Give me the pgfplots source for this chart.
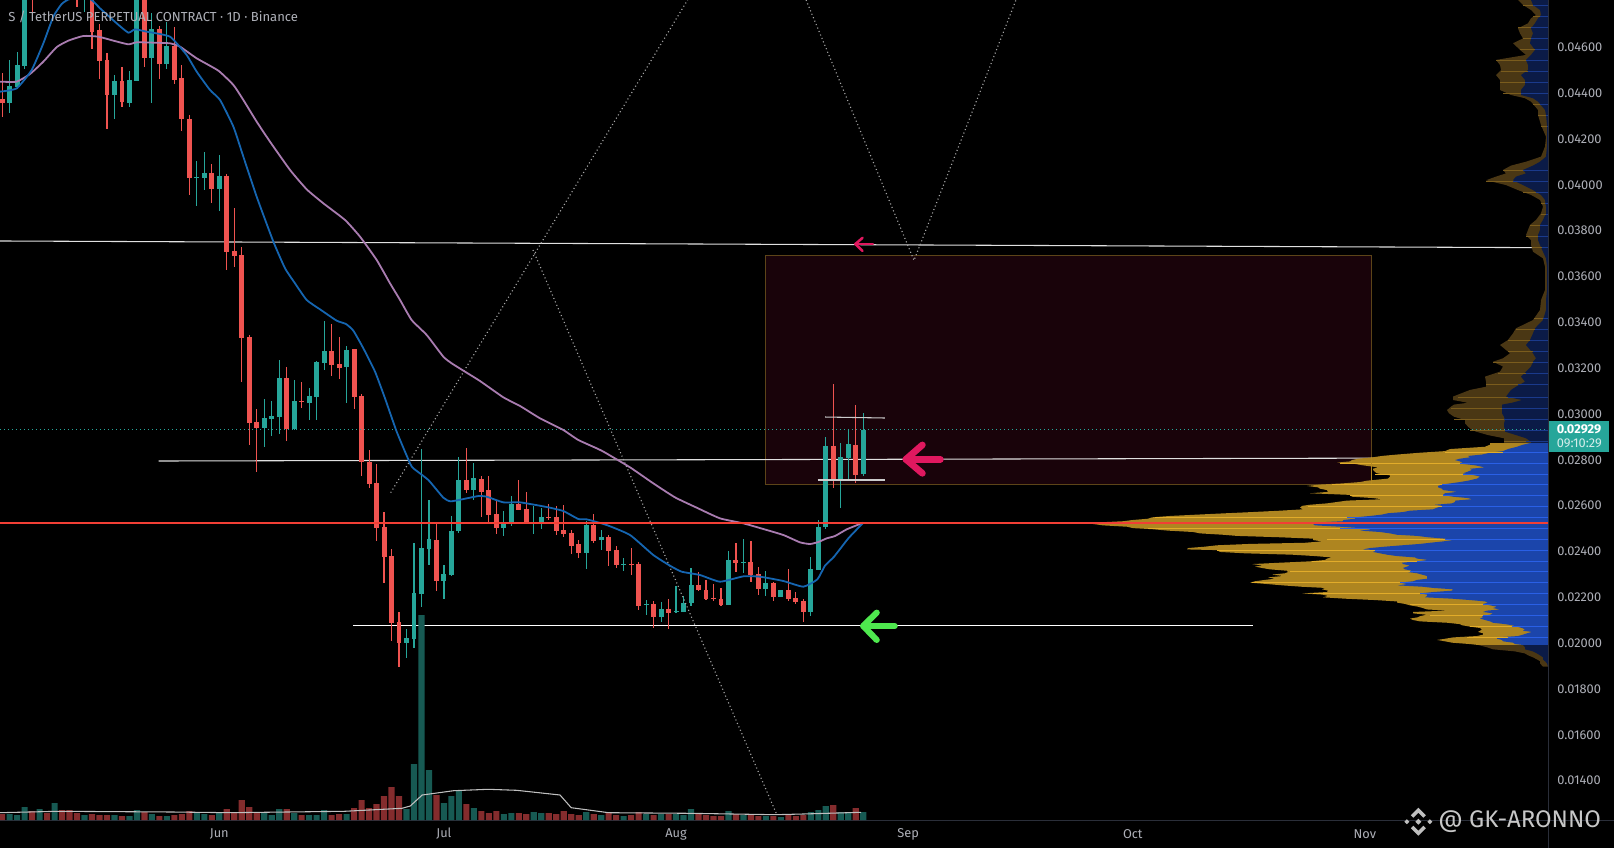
\documentclass[border=0pt]{standalone}
\usepackage{pgfplots}
\usepackage{pgfplotstable}
\usepackage{fontspec}
\setmainfont{Fira Sans}
\pgfplotsset{compat=1.18}
\definecolor{cG}{HTML}{26A69A}
\definecolor{cR}{HTML}{EF5350}
\definecolor{vG}{HTML}{175A53}
\definecolor{vR}{HTML}{842C2D}
\definecolor{maB}{HTML}{1565B0}
\definecolor{maP}{HTML}{A97CB0}
\definecolor{redL}{HTML}{F23F35}
\definecolor{boxF}{HTML}{19030A}
\definecolor{boxE}{HTML}{5C4418}
\definecolor{gold}{HTML}{AE8520}
\definecolor{goldD}{HTML}{4A3714}
\definecolor{goldS}{HTML}{E2AC2A}
\definecolor{goldDS}{HTML}{7A5C1D}
\definecolor{blu}{HTML}{1B45AB}
\definecolor{bluD}{HTML}{0B1B47}
\definecolor{bluS}{HTML}{2A60E6}
\definecolor{bluDS}{HTML}{1A3A8C}
\definecolor{pinkA}{HTML}{E0185F}
\definecolor{greenA}{HTML}{4EE84E}
\definecolor{axL}{HTML}{2A2E39}
\definecolor{txt}{HTML}{AEB0B8}

\pgfplotstableread{
d o h l c
-28 .043556 .045419 .043120 .044284
-27 .044226 .045782 .044138 .045200
-26 .045171 .049500 .045026 .049000
-18 .048500 .051000 .047528 .050000
-14 .043891 .044764 .042844 .044502
-12 .043557 .044938 .043382 .044546
-11 .044517 .049000 .044517 .048500
-9 .045506 .047455 .043557 .046771
-7 .045244 .047077 .045026 .046030
-3 .040280 .041011 .039047 .040300
-2 .040269 .041404 .039745 .040487
0 .039789 .041273 .038829 .040356
6 .029358 .030624 .028529 .029794
7 .029751 .030536 .029009 .029882
8 .029838 .032326 .029096 .031540
10 .029314 .031453 .029271 .030536
12 .030449 .031104 .029707 .030754
13 .030711 .032282 .029707 .032238
14 .032195 .034028 .031889 .032718
17 .032020 .032937 .030449 .032762
25 .019975 .020586 .019321 .020193
26 .020150 .024339 .019757 .022157
27 .022114 .028441 .021546 .024121
28 .024077 .026216 .023379 .024514
30 .022681 .023379 .021895 .022986
31 .022943 .025518 .022899 .024863
32 .024863 .028092 .024776 .027089
34 .026652 .027831 .026216 .027176
38 .024994 .025736 .024645 .025168
39 .025256 .026390 .025081 .026041
42 .025210 .025954 .024732 .025230
43 .025256 .025852 .024950 .025474
49 .023903 .025300 .023205 .025125
51 .024470 .024907 .024034 .024601
54 .023400 .023685 .023118 .023423
57 .021660 .021852 .021197 .021677
59 .021110 .021765 .020892 .021459
61 .021350 .022463 .021328 .021372
62 .021328 .022027 .021328 .021721
63 .021721 .023249 .021590 .022507
68 .021634 .023990 .021634 .023598
70 .023490 .024514 .023030 .023510
73 .022332 .023118 .022027 .022594
75 .021983 .022288 .021983 .022288
79 .021328 .023729 .021154 .023205
80 .023161 .025343 .023161 .025038
81 .025038 .028965 .024950 .028573
83 .027045 .028704 .025867 .028093
84 .028049 .029300 .027089 .028660
86 .027351 .030013 .027263 .029290
}\greenC
\pgfplotstableread{
d o h l c
-29 .043717 .044837 .042946 .043542
-25 .050000 .050500 .047530 .049000
-19 .052000 .053000 .047746 .050000
-17 .048500 .049000 .045884 .046640
-16 .046728 .046990 .044589 .045375
-15 .045419 .045709 .042407 .043891
-13 .044502 .045113 .043382 .043600
-10 .048500 .049000 .045128 .045506
-8 .046771 .046902 .044589 .045244
-6 .046030 .046859 .044371 .044546
-5 .044633 .045200 .042320 .042844
-4 .042844 .043018 .039527 .040269
-1 .040487 .040880 .039178 .039789
1 .040356 .040443 .036254 .037039
2 .037083 .038960 .036385 .036865
3 .036908 .037258 .031380 .033300
4 .033329 .033417 .028616 .029576
5 .029620 .030187 .027438 .029358
9 .031540 .032020 .028791 .029314
11 .030536 .031365 .030231 .030507
15 .032718 .033897 .031627 .032107
16 .032151 .033329 .031496 .031976
18 .032806 .032806 .030187 .030711
19 .030754 .030842 .027263 .027874
20 .027874 .028398 .026739 .026914
21 .026958 .027787 .024427 .024994
22 .025037 .025692 .022594 .023728
23 .023772 .024077 .020062 .020848
24 .020892 .021328 .018928 .019975
29 .024470 .025212 .022244 .022681
33 .027089 .028485 .026521 .026652
35 .027132 .027263 .025474 .026565
36 .026652 .027263 .025212 .025561
37 .025605 .026172 .024732 .024994
40 .026041 .027089 .025779 .025779
41 .025823 .026565 .025212 .025212
44 .025474 .026042 .025343 .025430
45 .025474 .025954 .024689 .024863
46 .024907 .025998 .024601 .024732
47 .024776 .024907 .023859 .024209
48 .024296 .024470 .023685 .023903
50 .025125 .025605 .024340 .024427
52 .024601 .024689 .023336 .023990
53 .024034 .024209 .023249 .023379
55 .023423 .024121 .022943 .023400
56 .023423 .023510 .021416 .021590
58 .021677 .021808 .020630 .021110
60 .021459 .021896 .020586 .021285
64 .022507 .023074 .022245 .022288
65 .022288 .022725 .021852 .021896
66 .021960 .022550 .021808 .021939
67 .021896 .022376 .021590 .021634
69 .023598 .024340 .023074 .023467
71 .023510 .024427 .022637 .022943
72 .022987 .023292 .022070 .022332
74 .022594 .022638 .021808 .021983
76 .022288 .023205 .021808 .021896
77 .021939 .022201 .021677 .021765
78 .021808 .021896 .020892 .021328
82 .028573 .031278 .026740 .027045
85 .028616 .030362 .026958 .027307
}\redC
\pgfplotstableread{
d v
-28 6
-27 5
-26 13
-24 11
-22 17
-18 5
-14 5
-12 4
-11 10
-9 6
-7 4
-3 7
-2 6
0 8
6 7
7 5
8 11
10 7
12 5
13 5
14 10
17 6
25 11
26 56
27 205
28 50
30 17
31 24
32 29
34 12
38 6
39 7
42 8
43 7
49 8
51 5
54 4
57 6
59 6
61 6
62 5
63 11
68 9
70 5
73 4
75 3
79 8
80 10
81 14
83 8
84 8
86 8
}\greenV
\pgfplotstableread{
d v
-29 6
-25 9
-23 7
-21 10
-20 10
-19 7
-17 6
-16 5
-15 5
-13 4
-10 8
-8 4
-6 5
-5 6
-4 9
-1 5
1 11
2 8
3 20
4 13
5 8
9 11
11 5
15 5
16 6
18 12
19 20
20 12
21 16
22 24
23 33
24 24
29 25
33 16
35 9
36 7
37 9
40 7
41 6
44 7
45 6
46 9
47 6
48 5
50 6
52 8
53 5
55 5
56 8
58 5
60 6
64 6
65 5
66 4
67 4
69 6
71 6
72 4
74 4
76 5
77 4
78 5
82 15
85 12
}\redV
% volume profile: price, total width, down-volume width
\pgfplotstableread{
p wg wb
.04804 0 0
.04804 30 17
.04782 25 15
.04760 17 8
.04738 12 7
.04724 17 10
.04702 20 13
.04680 30 17
.04658 28 15
.04636 25 17
.04615 35 18
.04586 28 13
.04564 22 17
.04542 52 22
.04520 48 20
.04498 47 20
.04476 52 27
.04455 48 23
.04433 48 23
.04411 48 27
.04389 37 27
.04375 23 15
.04360 17 10
.04324 10 3
.04302 10 2
.04258 7 1
.04207 2 1
.04164 3 1
.04120 7 2
.04098 22 8
.04081 37 15
.04062 45 25
.04047 42 22
.04033 52 32
.04017 62 35
.03996 42 25
.03974 30 15
.03953 17 7
.03931 8 3
.03902 5 2
.03873 7 2
.03844 12 5
.03822 18 8
.03800 20 8
.03778 22 10
.03756 17 10
.03735 17 8
.03705 15 5
.03676 5 2
.03640 3 1
.03596 3 1
.03538 3 1
.03494 7 2
.03451 8 2
.03407 15 5
.03371 32 13
.03349 35 15
.03320 40 18
.03298 48 22
.03262 38 15
.03240 45 12
.03225 55 15
.03204 45 17
.03182 48 22
.03160 63 27
.03138 62 23
.03116 62 32
.03102 78 37
.03073 95 42
.03058 95 26
.03046 80 36
.03038 94 46
.03029 97 46
.03014 101 46
.03000 99 46
.02985 94 44
.02971 83 43
.02956 83 44
.02942 80 44
.02930 77 43
.02920 72 43
.02905 60 32
.02891 44 22
.02876 44 17
.02870 44 17
.02870 0 0
}\vpTop
\pgfplotstableread{
p wg wb
.02870 0 0
.02870 58 18
.02863 58 25
.02854 63 31
.02844 98 40
.02835 103 45
.02828 128 58
.02820 151 66
.02814 166 80
.02808 175 78
.02802 190 88
.02796 196 93
.02790 198 88
.02785 211 86
.02779 193 85
.02773 185 73
.02764 170 63
.02758 175 78
.02753 175 76
.02744 173 81
.02738 171 85
.02729 158 73
.02724 158 68
.02715 160 71
.02706 181 80
.02700 188 88
.02694 206 98
.02689 228 106
.02683 241 110
.02677 230 110
.02671 228 106
.02665 221 105
.02657 220 91
.02651 238 103
.02644 198 105
.02636 196 95
.02630 175 80
.02625 166 76
.02619 201 93
.02613 211 93
.02607 221 96
.02601 238 113
.02596 246 106
.02588 248 111
.02581 245 115
.02575 268 138
.02569 296 145
.02564 321 160
.02558 350 166
.02552 378 178
.02546 396 193
.02540 400 193
.02534 416 205
.02529 425 205
.02523 454 235
.02517 455 235
.02511 445 233
.02505 421 208
.02499 415 188
.02494 395 176
.02488 380 188
.02482 355 168
.02476 348 158
.02470 325 151
.02465 311 131
.02459 268 120
.02453 235 103
.02447 235 95
.02441 226 105
.02435 243 118
.02430 298 128
.02424 331 146
.02418 343 163
.02412 360 178
.02406 361 185
.02403 331 171
.02395 328 175
.02389 303 168
.02383 256 161
.02377 233 151
.02371 216 133
.02366 221 131
.02360 223 120
.02354 238 131
.02348 268 146
.02342 296 145
.02336 285 138
.02331 293 141
.02325 286 145
.02319 278 143
.02313 261 136
.02307 260 140
.02302 263 131
.02296 276 126
.02290 265 121
.02284 280 121
.02278 273 121
.02273 283 131
.02267 293 135
.02261 298 148
.02255 281 141
.02249 265 150
.02243 246 125
.02238 223 115
.02232 226 95
.02226 220 96
.02220 221 115
.02214 246 128
.02209 226 121
.02203 220 121
.02197 225 123
.02191 203 96
.02185 173 78
.02179 151 63
.02174 151 60
.02168 143 65
.02162 138 58
.02156 130 51
.02150 125 55
.02144 121 48
.02139 100 61
.02133 135 65
.02127 135 55
.02121 121 58
.02115 128 66
.02110 130 65
.02104 138 68
.02098 135 63
.02092 128 58
.02086 101 55
.02080 88 43
.02075 86 36
.02069 78 31
.02063 68 26
.02057 66 23
.02051 68 25
.02046 70 16
.02040 65 21
.02034 65 25
.02028 71 30
.02022 95 51
.02016 103 51
.02011 111 46
.02005 103 45
.01999 96 35
.01993 78 33
.01989 70 25
.01989 0 0
}\vpMid
\pgfplotstableread{
p wg wb
.01989 0 0
.01989 70 25
.01979 61 23
.01970 55 23
.01961 33 15
.01952 23 11
.01944 20 8
.01935 15 5
.01926 11 5
.01918 8 3
.01909 8 1
.01894 5 0
.01894 0 0
}\vpBot
\pgfplotstableread{
p wg wb
.02830 103 45
.02782 208 88
.02734 173 85
.02690 216 106
.02642 198 105
.02594 240 106
.02546 393 201
.02498 400 208
.02450 221 103
.02403 331 173
.02355 236 131
.02310 258 138
.02262 296 148
.02214 235 128
.02166 138 65
.02118 118 65
.02070 78 36
.02022 81 40
}\stripes
\pgfplotstableread{
p wg wb
.04780 25 15
.04732 15 8
.04684 30 17
.04636 25 17
.04588 28 13
.04540 52 22
.04492 47 20
.04444 48 23
.04396 45 27
.04348 15 8
.04300 10 2
.04252 7 1
.04060 45 25
.04012 62 35
.03964 25 12
.03916 7 3
.03868 7 2
.03820 18 8
.03772 22 10
.03724 16 6
.03414 14 5
.03366 32 13
.03318 40 18
.03270 40 15
.03222 55 15
.03174 50 22
.03126 62 30
.03070 90 40
.03022 97 46
.02975 94 44
.02927 78 43
.02879 44 22
}\stripesD

\pgfplotsset{
 common/.style={scale only axis, width=1161pt, height=615pt, at={(0pt,-615pt)}, anchor=south west,
   xmin=-29.29, xmax=177.45, ymin=0.012252, ymax=0.048037},
 hidden/.style={common, hide axis},
 ebar/.style={draw=none, mark=none, forget plot},
}
\begin{document}
\begin{tikzpicture}
\fill[black] (0pt,0pt) rectangle (1210.5pt,-636pt);
% box and long levels, beneath the profile
\begin{axis}[hidden]
\addplot[fill=boxF, draw=boxE, line width=0.9pt] coordinates {(72.92,0.026902)(153.9,0.026902)(153.9,0.036895)(72.92,0.036895)} -- cycle;
\addplot[white!88!black, line width=0.8pt] coordinates {(-29.29,0.03752)(177.45,0.037227)};
\addplot[white!88!black, line width=0.8pt] coordinates {(-8.12,0.027918)(177.45,0.028062)};
\addplot[white, line width=1.1pt] coordinates {(17.9,0.020748)(138.0,0.020748)};
\end{axis}
% volume profile
\begin{axis}[common, hide axis, x dir=reverse, xmin=0, xmax=1548]
\addplot[fill=goldD, draw=none] table[x=wg,y=p] {\vpTop} -- cycle;
\addplot[fill=bluD, draw=none] table[x=wb,y=p] {\vpTop} -- cycle;
\addplot[fill=goldD, draw=none] table[x=wg,y=p] {\vpBot} -- cycle;
\addplot[fill=bluD, draw=none] table[x=wb,y=p] {\vpBot} -- cycle;
\addplot[fill=gold, draw=none] table[x=wg,y=p] {\vpMid} -- cycle;
\addplot[fill=blu, draw=none] table[x=wb,y=p] {\vpMid} -- cycle;
\addplot[ebar, error bars/.cd, x dir=plus, x explicit, error mark=none, error bar style={draw=goldS, line width=0.75pt}]
  table[x=wb,y=p,x error expr=\thisrow{wg}-\thisrow{wb}] {\stripes};
\addplot[ebar, error bars/.cd, x dir=minus, x explicit, error mark=none, error bar style={draw=bluS, line width=0.75pt}]
  table[x=wb,y=p,x error expr=\thisrow{wb}] {\stripes};
\addplot[ebar, error bars/.cd, x dir=plus, x explicit, error mark=none, error bar style={draw=goldDS, line width=0.6pt}]
  table[x=wb,y=p,x error expr=\thisrow{wg}-\thisrow{wb}] {\stripesD};
\addplot[ebar, error bars/.cd, x dir=minus, x explicit, error mark=none, error bar style={draw=bluDS, line width=0.6pt}]
  table[x=wb,y=p,x error expr=\thisrow{wb}] {\stripesD};
\end{axis}
% price pane
\begin{axis}[common,
  axis x line=bottom, axis y line=right, axis line style={draw=axL, -, line width=0.75pt},
  xtick={0,30,61,92,122,153}, xticklabels={Jun,Jul,Aug,Sep,Oct,Nov},
  ytick={0.014,0.016,0.018,0.020,0.022,0.024,0.026,0.028,0.030,0.032,0.034,0.036,0.038,0.040,0.042,0.044,0.046},
  scaled y ticks=false, major tick length=0pt,
  yticklabel style={/pgf/number format/fixed, /pgf/number format/fixed zerofill, /pgf/number format/precision=5, /pgf/number format/assume math mode=true, anchor=west, xshift=3.5pt, yshift=-0.5pt},
  tick label style={font=\fontsize{9.6}{11}\selectfont, color=txt},
  xticklabel style={anchor=center, yshift=-10.5pt},
  ]
\addplot[goldS!80!black, line width=0.6pt, forget plot] coordinates {(153.9,0.026902)(153.9,0.028100)};
% wicks
\addplot[ebar, error bars/.cd, y dir=both, y explicit, error mark=none, error bar style={draw=cG, line width=0.85pt}]
  table[x=d,y=o,y error plus expr=\thisrow{h}-\thisrow{o},y error minus expr=\thisrow{o}-\thisrow{l}] {\greenC};
\addplot[ebar, error bars/.cd, y dir=both, y explicit, error mark=none, error bar style={draw=cR, line width=0.85pt}]
  table[x=d,y=o,y error plus expr=\thisrow{h}-\thisrow{o},y error minus expr=\thisrow{o}-\thisrow{l}] {\redC};
% bodies
\addplot[ebar, error bars/.cd, y dir=plus, y explicit, error mark=none, error bar style={draw=cG, line width=3.7pt}]
  table[x=d,y=o,y error expr=\thisrow{c}-\thisrow{o}] {\greenC};
\addplot[ebar, error bars/.cd, y dir=minus, y explicit, error mark=none, error bar style={draw=cR, line width=3.7pt}]
  table[x=d,y=o,y error expr=\thisrow{o}-\thisrow{c}] {\redC};
% dotted zigzag
\addplot[color=black!35!white, line width=0.85pt, dash pattern=on 0.8pt off 2pt] coordinates {(22.89,0.026535)(62.54,0.048037)};
\addplot[color=black!35!white, line width=0.85pt, dash pattern=on 0.8pt off 2pt] coordinates {(41.89,0.037127)(74.48,0.01247)};
\addplot[color=black!35!white, line width=0.85pt, dash pattern=on 0.8pt off 2pt] coordinates {(78.36,0.048037)(92.78,0.036673)(106.4,0.048037)};
% last price
\addplot[cG, line width=0.6pt, dash pattern=on 0.8pt off 2.2pt] coordinates {(-29.29,0.02929)(177.45,0.02929)};
% short levels
\addplot[white!80!black, line width=0.8pt] coordinates {(80.9,0.029838)(88.9,0.029795)};
\addplot[white!80!black, line width=0.8pt] coordinates {(79.9,0.027089)(88.9,0.027089)};
% moving averages
\addplot[maP, line width=1.35pt, smooth, tension=0.3] coordinates {
(-29.29,0.044473)(-27.06,0.044473)(-25.28,0.044808)(-23.50,0.045346)(-21.72,0.045980)(-20.16,0.046262)(-18.16,0.046466)(-16.16,0.046437)(-14.15,0.046262)(-12.15,0.046102)(-11.04,0.046190)(-8.81,0.046175)(-6.58,0.046146)(-5.25,0.046000)(-3.02,0.045491)(-0.13,0.044953)(1.88,0.044328)(3.21,0.043673)(4.99,0.042727)(6.77,0.041854)(9.45,0.040618)(11.67,0.039774)(13.90,0.039163)(16.79,0.038436)(18.79,0.037709)(21.02,0.036690)(22.80,0.035672)(24.14,0.034945)(25.69,0.034071)(27.70,0.033417)(29.92,0.032471)(31.04,0.032180)(32.60,0.031860)(34.82,0.031409)(37.94,0.030696)(40.17,0.030318)(42.84,0.029780)(45.94,0.029271)(47.95,0.028835)(51.06,0.028369)(54.85,0.027642)(57.96,0.026943)(60.86,0.026332)(63.75,0.025882)(66.87,0.025416)(69.99,0.025198)(72.66,0.024950)(75.33,0.024689)(77.55,0.024369)(78.89,0.024296)(80.00,0.024383)(81.12,0.024543)(82.23,0.024645)(83.79,0.024936)(86.01,0.025227)};
\addplot[maB, line width=1.35pt, smooth, tension=0.3] coordinates {
(-29.29,0.044036)(-27.06,0.044182)(-25.06,0.044982)(-23.50,0.046146)(-22.17,0.047310)(-21.05,0.047862)(-19.94,0.04808)(-17.27,0.04808)(-15.93,0.047673)(-13.71,0.047019)(-12.15,0.046611)(-11.26,0.046757)(-9.70,0.046655)(-7.92,0.046553)(-6.58,0.046437)(-5.69,0.046146)(-4.36,0.045637)(-3.02,0.044909)(-1.24,0.044109)(0.10,0.043673)(1.88,0.042509)(3.21,0.041200)(4.99,0.039454)(7.22,0.037490)(8.78,0.036327)(10.11,0.035672)(11.67,0.034945)(13.45,0.034537)(15.68,0.034042)(16.92,0.033897)(17.90,0.033606)(19.24,0.032835)(20.80,0.031816)(22.13,0.030653)(23.69,0.029198)(25.47,0.027816)(25.92,0.027598)(27.92,0.027088)(29.92,0.026318)(30.90,0.026158)(33.04,0.026288)(34.60,0.026390)(35.71,0.026361)(37.94,0.026114)(40.17,0.026114)(43.72,0.025911)(45.94,0.025736)(47.95,0.025387)(49.06,0.025372)(51.73,0.025125)(54.85,0.024689)(57.96,0.023816)(60.19,0.023350)(61.75,0.023088)(64.20,0.022943)(66.87,0.022652)(69.99,0.022885)(72.21,0.022870)(75.33,0.022681)(78.00,0.022434)(79.87,0.022754)(80.89,0.023350)(82.10,0.023743)(84.01,0.024543)(86.01,0.025227)};
% main level
\addplot[redL, line width=1.5pt] coordinates {(-29.29,0.025227)(177.45,0.025227)};
% arrows
\addplot[pinkA, line width=5pt, line cap=round, line join=round] coordinates {(93.9,0.028620)(91.7,0.027993)(93.9,0.027380)};
\addplot[pinkA, line width=5pt, line cap=round] coordinates {(91.7,0.027993)(96.3,0.027993)};
\addplot[greenA, line width=4.6pt, line cap=round, line join=round] coordinates {(87.8,0.021300)(86.0,0.020718)(87.8,0.020110)};
\addplot[greenA, line width=4.6pt, line cap=round] coordinates {(86.0,0.020718)(90.2,0.020718)};
\addplot[pinkA, line width=1.9pt, line cap=round, line join=round] coordinates {(85.91,0.037659)(84.95,0.037388)(85.91,0.037083)};
\addplot[pinkA, line width=1.9pt, line cap=round] coordinates {(84.95,0.037388)(87.29,0.037388)};
\end{axis}
% volume pane
\begin{axis}[common, hide axis, ymin=0, ymax=820]
\addplot[ybar, bar width=4.6pt, bar shift=0pt, fill=vG, draw=none] table[x=d,y=v] {\greenV};
\addplot[ybar, bar width=4.6pt, bar shift=0pt, fill=vR, draw=none] table[x=d,y=v] {\redV};
\addplot[color=white!75!black, line width=0.8pt] coordinates {(-29.29,7.3)(-21.6,8.7)(-6.3,8)(1.4,7.3)(9.05,8)(16.7,8.7)(24.4,11.7)(25.5,14)(27.1,25)(31.3,29.3)(35.9,30.7)(39.7,29.7)(45.5,25)(47,12.3)(52,7.3)(62.7,6.7)(74.2,5.3)(78,6)(85.7,7.7)};
\end{axis}
% overlays in pixel units, origin top left
\begin{scope}[x=0.75pt,y=-0.75pt]
\draw[axL, line width=0.75pt] (1548,820) -- (1614,820);
\draw[axL, line width=0.75pt] (1548,820) -- (1548,848);
\node[anchor=west, inner sep=0pt, text=txt, font=\fontsize{9.8}{11}\selectfont] at (8,16.5) {S / TetherUS PERPETUAL CONTRACT · 1D · Binance};
\fill[cG] (1549,421) rectangle (1608.6,451.7);
\node[anchor=west, inner sep=0pt, text=white, font=\fontsize{9.6}{11}\selectfont\bfseries] at (1556.5,429.3) {0.02929};
\node[anchor=west, inner sep=0pt, text=white!80!cG, font=\fontsize{9.6}{11}\selectfont] at (1556.5,443.5) {09:10:29};
% logo
\begin{scope}[shift={(1418.3,821.7)}]
\fill[white!75!black] (0,-3) -- (3,0) -- (0,3) -- (-3,0) -- cycle;
\fill[white!75!black] (-14,0) -- (-11.5,-2.5) -- (-9,0) -- (-11.5,2.5) -- cycle;
\fill[white!75!black] (14,0) -- (11.5,-2.5) -- (9,0) -- (11.5,2.5) -- cycle;
\fill[white!75!black] (0,-14) -- (7.5,-6.5) -- (5,-4) -- (0,-9) -- (-5,-4) -- (-7.5,-6.5) -- cycle;
\fill[white!75!black] (0,14) -- (7.5,6.5) -- (5,4) -- (0,9) -- (-5,4) -- (-7.5,6.5) -- cycle;
\end{scope}
\node[anchor=west, inner sep=0pt, text=white!78!black, font=\fontsize{18}{20}\selectfont] at (1438,821.7) {@ GK-ARONNO};
\end{scope}
\pgfresetboundingbox
\path[use as bounding box] (0pt,0pt) rectangle (1210.5pt,-636pt);
\end{tikzpicture}
\end{document}
